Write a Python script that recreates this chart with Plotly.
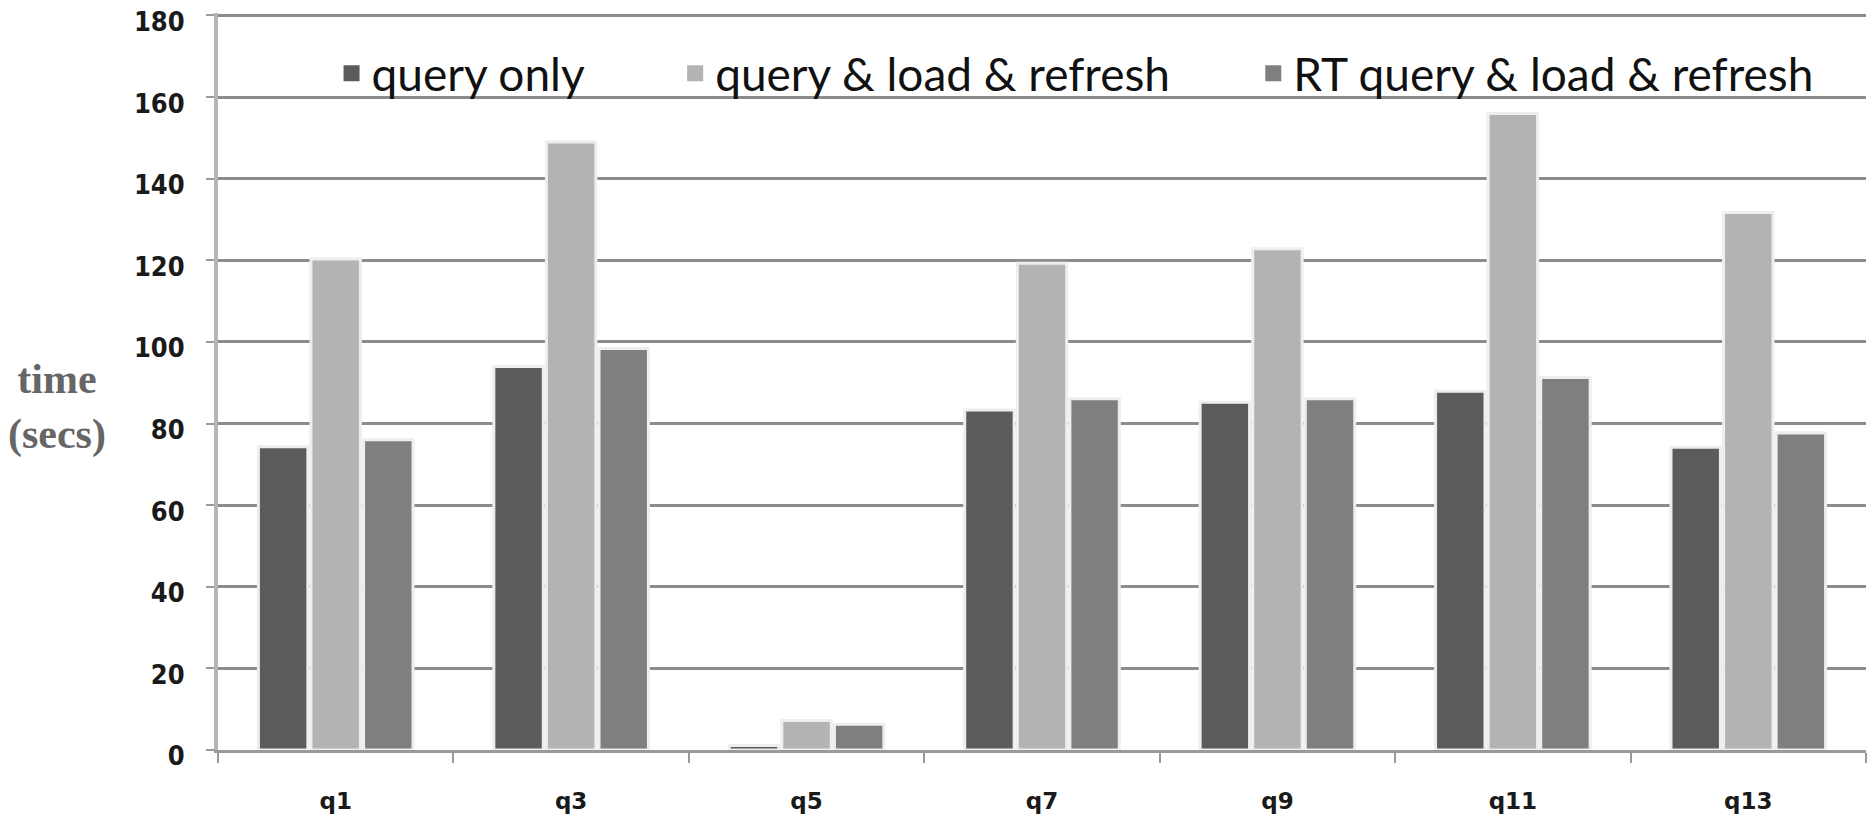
import plotly.graph_objects as go

queries = ["q1", "q3", "q5", "q7", "q9", "q11", "q13"]
query_only = [74.3, 94.0, 1.1, 83.3, 85.2, 87.9, 74.2]
query_load_refresh = [120.3, 149.0, 7.2, 119.3, 122.8, 156.0, 131.7]
rt_query_load_refresh = [76.0, 98.4, 6.3, 86.1, 86.1, 91.3, 77.7]
y_ticks = [0, 20, 40, 60, 80, 100, 120, 140, 160, 180]

series = [
    ("query only", query_only, "#5b5b5b", "legend", 0.0689),
    ("query & load & refresh", query_load_refresh, "#b3b3b3", "legend2", 0.2774),
    ("RT query & load & refresh", rt_query_load_refresh, "#7f7f7f", "legend3", 0.6282),
]

fig = go.Figure()
for name, vals, color, leg, _ in series:
    fig.add_trace(go.Bar(
        x=queries,
        y=vals,
        name=name,
        showlegend=False,
        marker=dict(color=color, line=dict(color="#eeeeee", width=3)),
    ))
    # legend-only marker, bigger square than the default bar swatch
    fig.add_trace(go.Scatter(
        x=[None], y=[None],
        mode="markers",
        name=name,
        legend=leg,
        marker=dict(symbol="square", size=16, color=color),
        hoverinfo="skip",
    ))

leg_font = dict(family="Lato", size=46, color="#111111")
legends = {}
for _, _, _, leg, lx in series:
    legends[leg] = dict(
        orientation="h",
        x=lx,
        xanchor="left",
        y=0.918,
        yanchor="middle",
        bgcolor="rgba(0,0,0,0)",
        font=leg_font,
        itemsizing="trace",
    )

# the page body adds an 8px margin, so the figure is sized to fit the window
fig.update_layout(
    width=1860,
    height=812,
    paper_bgcolor="white",
    plot_bgcolor="white",
    margin=dict(l=210, r=2, t=5, b=70),
    barmode="group",
    bargap=0.33,
    bargroupgap=0.06,
    font=dict(family="DejaVu Sans", color="#222222"),
    **legends,
    xaxis=dict(
        automargin=False,
        showline=True,
        linecolor="#9a9a9a",
        linewidth=3,
        ticks="outside",
        tickson="boundaries",
        ticklen=10,
        tickwidth=2,
        tickcolor="#9a9a9a",
        ticklabelstandoff=28,
        tickfont=dict(family="DejaVu Sans", size=23, weight="bold", color="#1a1a1a"),
        showgrid=False,
    ),
    yaxis=dict(
        automargin=False,
        range=[0, 180.6],
        tickvals=y_ticks,
        showgrid=True,
        gridcolor="#8c8c8c",
        gridwidth=3,
        zeroline=False,
        showline=True,
        linecolor="#b5b5b5",
        linewidth=4,
        ticks="outside",
        ticklen=8,
        tickwidth=2,
        tickcolor="#9a9a9a",
        ticklabelstandoff=16,
        ticklabelshift=6,
        ticklabeloverflow="allow",
        tickfont=dict(family="DejaVu Sans Condensed", size=27, weight="bold", color="#1a1a1a"),
    ),
)

fig.add_annotation(
    text="time<br>(secs)",
    xref="paper", yref="paper",
    x=-0.0977, y=0.465,
    xanchor="center", yanchor="middle",
    showarrow=False,
    align="center",
    font=dict(family="Liberation Serif", size=42, weight="bold", color="#666666"),
)

fig.write_html("out.html")
